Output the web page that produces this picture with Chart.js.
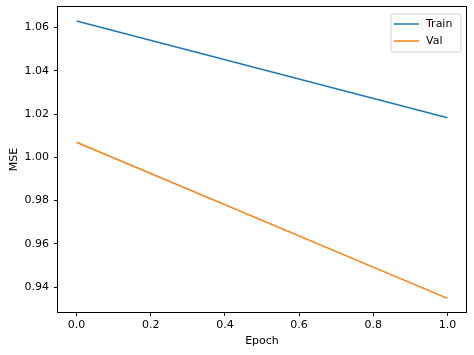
<!DOCTYPE html>
<html><head><meta charset="utf-8">
<script src="https://cdn.jsdelivr.net/npm/chart.js@4/dist/chart.umd.min.js"></script>
<style>html,body{margin:0;padding:0;background:#fff}canvas{display:block}</style>
</head><body>
<canvas id="c" width="474" height="355"></canvas>
<script>
const epochs = [0, 1];
const trainMSE = [1.0630, 1.0183];
const valMSE = [1.0070, 0.9348];
const seriesNames = ['Train', 'Val'];
const seriesColors = ['#1f77b4', '#ff7f0e'];
const xTicks = [0.0, 0.2, 0.4, 0.6, 0.8, 1.0];
const yTicks = [0.94, 0.96, 0.98, 1.00, 1.02, 1.04, 1.06];
const xTitle = 'Epoch';
const yTitle = 'MSE';

Chart.defaults.font.family = "'DejaVu Sans', sans-serif";
Chart.defaults.font.size = 11;
Chart.defaults.color = '#000';

const framePlugin = {
  id: 'frame',
  afterDraw(chart) {
    const {ctx, chartArea: a} = chart;
    ctx.save();
    ctx.strokeStyle = '#000';
    ctx.lineWidth = 1;
    ctx.strokeRect(Math.round(a.left) - 0.5, Math.round(a.top) - 0.5,
                   Math.round(a.right - a.left) + 1, Math.round(a.bottom - a.top) + 1);
    ctx.restore();
  }
};

const legendPlugin = {
  id: 'mplLegend',
  afterDraw(chart) {
    const {ctx, chartArea: a} = chart;
    const ds = chart.data.datasets;
    const w = 70, rowH = 17, h = 38;
    const x = a.right - 5 - w, y = a.top + 7;
    ctx.save();
    ctx.beginPath();
    const r = 2.5;
    ctx.moveTo(x + r, y);
    ctx.arcTo(x + w, y, x + w, y + h, r);
    ctx.arcTo(x + w, y + h, x, y + h, r);
    ctx.arcTo(x, y + h, x, y, r);
    ctx.arcTo(x, y, x + w, y, r);
    ctx.closePath();
    ctx.fillStyle = 'rgba(255,255,255,0.8)';
    ctx.fill();
    ctx.strokeStyle = '#d0d0d0';
    ctx.lineWidth = 1;
    ctx.stroke();
    ctx.font = "11px 'DejaVu Sans'";
    ctx.textBaseline = 'middle';
    ctx.textAlign = 'left';
    ds.forEach((d, i) => {
      const cy = y + 10 + i * rowH;
      ctx.strokeStyle = d.borderColor;
      ctx.lineWidth = 1.5;
      ctx.beginPath();
      ctx.moveTo(x + 3, cy);
      ctx.lineTo(x + 28, cy);
      ctx.stroke();
      ctx.fillStyle = '#000';
      ctx.fillText(d.label, x + 35, cy);
    });
    ctx.restore();
  }
};

new Chart(document.getElementById('c'), {
  type: 'line',
  data: {
    datasets: [
      { label: seriesNames[0], data: epochs.map((e, i) => ({x: e, y: trainMSE[i]})),
        borderColor: seriesColors[0], backgroundColor: seriesColors[0] },
      { label: seriesNames[1], data: epochs.map((e, i) => ({x: e, y: valMSE[i]})),
        borderColor: seriesColors[1], backgroundColor: seriesColors[1] }
    ]
  },
  options: {
    responsive: false,
    animation: false,
    devicePixelRatio: 1,
    elements: { point: { radius: 0 }, line: { borderWidth: 1.5, tension: 0 } },
    layout: { padding: { left: 0, right: 8, top: 7, bottom: 0 } },
    plugins: { legend: { display: false }, tooltip: { enabled: false } },
    scales: {
      x: {
        type: 'linear', min: -0.05, max: 1.05,
        afterBuildTicks: s => { s.ticks = xTicks.map(v => ({value: v})); },
        afterFit: s => { s.height = 43; s.paddingLeft = 0; s.paddingRight = 0; },
        ticks: { callback: v => Number(v).toFixed(1), padding: 3, maxRotation: 0, autoSkip: false },
        grid: { drawOnChartArea: false, drawTicks: true, tickLength: 4, color: '#000' },
        border: { display: false },
        title: { display: true, text: xTitle, padding: { top: 0, bottom: 7 } }
      },
      y: {
        type: 'linear', min: 0.9285, max: 1.0695,
        afterBuildTicks: s => { s.ticks = yTicks.map(v => ({value: v})); },
        afterFit: s => { s.width = 58; s.paddingTop = 0; s.paddingBottom = 0; },
        ticks: { callback: v => Number(v).toFixed(2), padding: 5, autoSkip: false },
        grid: { drawOnChartArea: false, drawTicks: true, tickLength: 4, color: '#000' },
        border: { display: false },
        title: { display: true, text: yTitle, padding: { top: 8, bottom: 0 } }
      }
    }
  },
  plugins: [framePlugin, legendPlugin]
});
</script>
</body></html>
